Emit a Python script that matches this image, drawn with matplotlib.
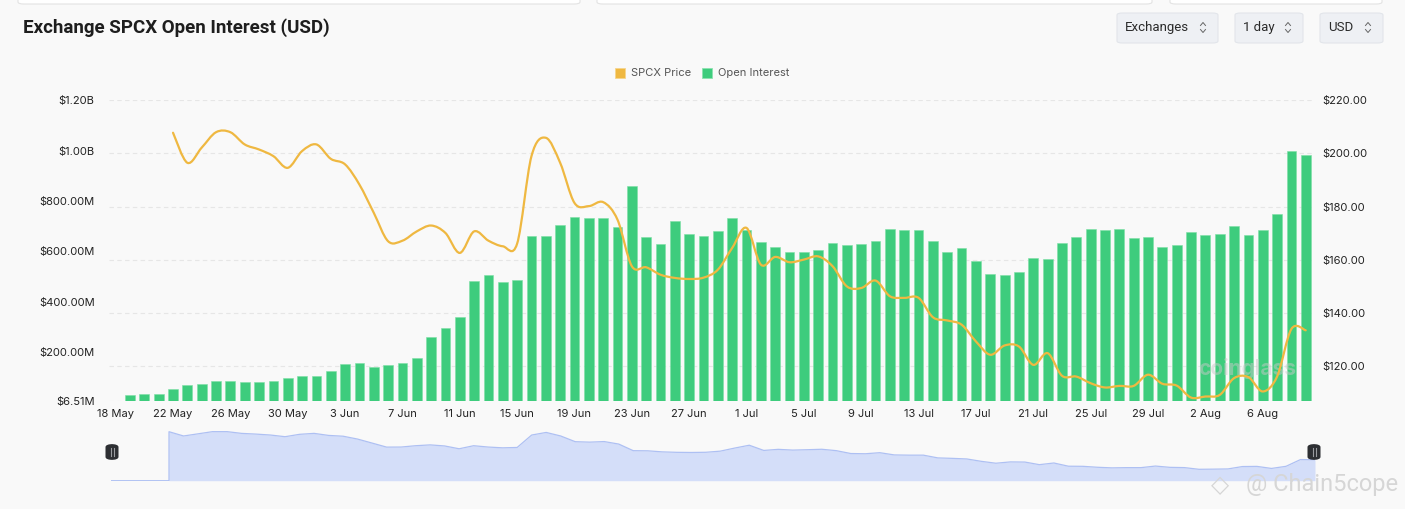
import numpy as np
import pandas as pd
import matplotlib
matplotlib.use("Agg")
import matplotlib.pyplot as plt
from matplotlib.path import Path
from matplotlib.patches import PathPatch, FancyBboxPatch, Rectangle
from matplotlib.lines import Line2D

# ---------------------------------------------------------------
# data : daily open interest (USD millions) and SPCX price (USD)
dates = pd.date_range("2025-05-18", "2025-08-09", freq="D")

open_interest = [6.51, 26.4, 30.4, 31.6, 51.5, 69.0, 71.3, 82.1, 82.1, 78.1,
                 78.1, 82.1, 96.8, 102.0, 104.8, 124.6, 149.7, 153.7, 137.8, 148.5,
                 156.5, 176.4, 258.3, 292.9, 337.9, 482.7, 503.8, 478.7, 486.6, 658.9,
                 661.7, 705.4, 734.5, 730.5, 731.7, 694.7, 860.6, 654.9, 629.9, 718.6,
                 666.8, 661.7, 681.6, 730.5, 682.8, 635.0, 616.3, 595.2, 595.2, 606.0,
                 632.2, 623.1, 629.9, 641.8, 687.9, 685.6, 685.6, 641.8, 598.0, 613.9,
                 559.4, 510.5, 504.9, 518.5, 574.2, 567.4, 631.0, 656.1, 687.9, 685.6,
                 689.5, 650.9, 656.1, 616.3, 624.3, 676.0, 665.7, 669.6, 699.9, 665.7,
                 685.6, 746.4, 998.2, 982.3]

# price starts on 22 May (index 4)
price_start = 4
price = [207.8, 196.5, 202.2, 208.0, 208.0, 203.4, 201.5, 199.0, 194.6, 200.9,
         203.4, 198.0, 195.9, 188.3, 177.7, 167.0, 167.2, 170.7, 172.9, 170.1,
         162.6, 170.7, 167.2, 165.1, 166.1, 199.0, 205.9, 196.5, 181.4, 180.2,
         181.7, 175.1, 157.6, 157.2, 154.4, 153.2, 152.8, 153.3, 156.3, 164.5,
         172.0, 158.2, 161.1, 159.1, 160.1, 161.3, 157.6, 150.0, 149.4, 152.2,
         146.3, 145.7, 145.7, 138.4, 137.2, 135.6, 129.3, 124.3, 127.8, 127.4,
         120.5, 124.9, 116.4, 116.1, 113.6, 112.0, 112.6, 112.6, 116.8, 113.4,
         112.7, 108.2, 108.6, 109.2, 115.5, 115.9, 110.5, 116.1, 134.0, 133.5]

oi_ticks = [6.51, 200, 400, 600, 800, 1000, 1200]
oi_labels = ["$6.51M", "$200.00M", "$400.00M", "$600.00M", "$800.00M", "$1.00B", "$1.20B"]
price_ticks = [120, 140, 160, 180, 200, 220]

GREEN = "#3ecc7d"
ORANGE = "#efb841"
BG = "#f9f9f9"
TXT = "#222222"

plt.rcParams["font.family"] = ["Inter", "DejaVu Sans"]

W, H = 1405, 509
fig = plt.figure(figsize=(W / 100, H / 100), dpi=100, facecolor=BG)

def fbox(x0, y0, x1, y1):
  # pixel box (top-left origin) -> figure fraction rect
  return [x0 / W, 1 - y1 / H, (x1 - x0) / W, (y1 - y0) / H]

days = np.arange(len(dates))
px = days[price_start:]
plot_box = fbox(108.5, 100.3, 1312.9, 400.5)

##################################################################
# grid + right price axis (bottom layer)
axg = fig.add_axes(plot_box)
axg.set_facecolor("none")
axg.set_xlim(-0.5, len(dates) - 0.5)
axg.set_ylim(107.1, 220)
axg.yaxis.tick_right()
axg.set_yticks(price_ticks)
axg.set_yticklabels(["$%.2f" % v for v in price_ticks])
axg.tick_params(axis="y", length=0, pad=7, labelsize=8, labelcolor=TXT)
axg.tick_params(axis="x", length=0, labelbottom=False)
for v in price_ticks:
  axg.axhline(v, color="#e6e6e6", lw=0.8, ls=(0, (4, 3)), zorder=0)
axg.axhline(107.1, color="#e6e6e6", lw=0.8, ls=(0, (4, 3)), zorder=0)
for s in axg.spines.values():
  s.set_visible(False)

##################################################################
# bars with left axis
ax = fig.add_axes(plot_box)
ax.set_facecolor("none")
ax.set_xlim(-0.5, len(dates) - 0.5)
ax.bar(days, open_interest, width=0.68, bottom=0, color=GREEN,
       edgecolor="#7de0a6", linewidth=0.4)
ax.set_ylim(6.51, 1200)
ax.set_yticks(oi_ticks)
ax.set_yticklabels(oi_labels)
ax.set_xticks(days[::4])
ax.set_xticklabels(["%d %s" % (d.day, d.strftime("%b")) for d in dates[::4]])
ax.tick_params(axis="both", length=0, labelsize=8, labelcolor=TXT)
ax.tick_params(axis="y", pad=10)
ax.tick_params(axis="x", pad=6)
for s in ax.spines.values():
  s.set_visible(False)

ax.text(0.945, 0.105, "coinglass", transform=ax.transAxes, ha="center", va="center",
        fontsize=15, fontweight="bold", color="#c8c8c8", alpha=0.5, zorder=5)

##################################################################
# smooth price line on top
def smooth_path(x, y):
  pts = np.column_stack([x, y]).astype(float)
  verts = [pts[0]]
  codes = [Path.MOVETO]
  n = len(pts)
  for i in range(n - 1):
    p0 = pts[i - 1] if i > 0 else pts[i]
    p1 = pts[i]
    p2 = pts[i + 1]
    p3 = pts[i + 2] if i + 2 < n else pts[i + 1]
    c1 = p1 + (p2 - p0) / 6.0
    c2 = p2 - (p3 - p1) / 6.0
    verts += [c1, c2, p2]
    codes += [Path.CURVE4] * 3
  return Path(verts, codes)

ax2 = fig.add_axes(plot_box)
ax2.set_facecolor("none")
ax2.set_xlim(-0.5, len(dates) - 0.5)
ax2.set_ylim(107.1, 220)
ax2.axis("off")
ax2.add_patch(PathPatch(smooth_path(px, price), fill=False, edgecolor=ORANGE,
                        lw=1.6, capstyle="round", joinstyle="round"))

##################################################################
# navigator
axn = fig.add_axes(fbox(111, 420.7, 1315, 480.7))
axn.set_facecolor("#e7ecf8")
axn.set_xlim(0, len(dates) - 1)
axn.set_ylim(78, 237)
nx = np.concatenate([[0, price_start], px])
ny = np.concatenate([[78, 78], price])
axn.fill_between(px, 78, price, color="#d4def9", lw=0)
axn.plot(nx, ny, color="#aec0f3", lw=0.9)
axn.axis("off")

for cx in (112, 1314):
  fig.patches.append(FancyBboxPatch(((cx - 6.5) / W, 1 - 460 / H), 13 / W, 16 / H,
                                    boxstyle="round,pad=0,rounding_size=0.006",
                                    transform=fig.transFigure, facecolor="#2d2f33",
                                    edgecolor="none", zorder=5))
  for dx in (-1.5, 1.5):
    fig.add_artist(Line2D([(cx + dx) / W] * 2, [1 - 456 / H, 1 - 448 / H],
                          color="#9a9ca0", lw=0.8, zorder=6))

##################################################################
# title, legend, controls
fig.text(23 / W, 1 - 28 / H, "Exchange SPCX Open Interest (USD)", fontsize=13.5,
         fontweight="bold", color="#1e1e1e", va="center",
         family=["Roboto", "DejaVu Sans"])

fig.patches.append(Rectangle((615.3 / W, 1 - 78.3 / H), 10 / W, 10 / H,
                             transform=fig.transFigure, facecolor=ORANGE,
                             edgecolor="#f6d58d", lw=0.6))
fig.text(630.7 / W, 1 - 73.3 / H, "SPCX Price", fontsize=8, color="#555555", va="center")
fig.patches.append(Rectangle((702.3 / W, 1 - 78.3 / H), 10 / W, 10 / H,
                             transform=fig.transFigure, facecolor=GREEN,
                             edgecolor="#8ce3b0", lw=0.6))
fig.text(717.7 / W, 1 - 73.3 / H, "Open Interest", fontsize=8, color="#555555", va="center")

# cut-off cards at the very top
for x0, x1 in ((18, 580), (597, 1152), (1170, 1382)):
  fig.patches.append(FancyBboxPatch((x0 / W, 1 - 4 / H), (x1 - x0) / W, 20 / H,
                                    boxstyle="round,pad=0,rounding_size=0.004",
                                    transform=fig.transFigure, facecolor="white",
                                    edgecolor="#e3e3e3", lw=0.8))

for x0, x1, lab in ((1117, 1218, "Exchanges"), (1235, 1303, "1 day"), (1320, 1383, "USD")):
  fig.patches.append(FancyBboxPatch((x0 / W, 1 - 43 / H), (x1 - x0) / W, 30 / H,
                                    boxstyle="round,pad=0,rounding_size=0.004",
                                    transform=fig.transFigure, facecolor="#eef0f4",
                                    edgecolor="#e2e5ea", lw=0.8))
  fig.text((x0 + 8) / W, 1 - 27.5 / H, lab, fontsize=9.5, color="#2a2a2a", va="center",
           family=["Roboto", "DejaVu Sans"])
  cx = x1 - 15
  fig.add_artist(Line2D([(cx - 2.5) / W, cx / W, (cx + 2.5) / W],
                        [1 - 25.5 / H, 1 - 22.5 / H, 1 - 25.5 / H], color="#666666", lw=0.7))
  fig.add_artist(Line2D([(cx - 2.5) / W, cx / W, (cx + 2.5) / W],
                        [1 - 29.5 / H, 1 - 32.5 / H, 1 - 29.5 / H], color="#666666", lw=0.7))

# watermark
fig.text(1398 / W, 1 - 485 / H, "@ Chain5cope", fontsize=17, color="#d6d6d6",
         ha="right", va="center", family=["Roboto", "DejaVu Sans"])
fig.text(1220 / W, 1 - 485 / H, "\u25c7", fontsize=17, color="#d6d6d6",
         ha="center", va="center", family=["DejaVu Sans"])

fig.savefig("out.png", dpi=100, facecolor=BG)
